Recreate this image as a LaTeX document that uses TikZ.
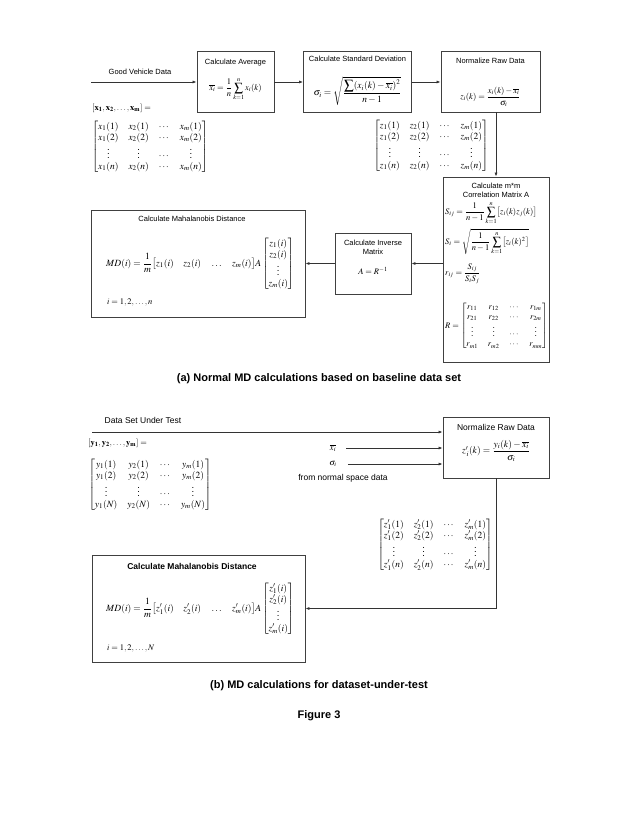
\documentclass[tikz,border=0pt]{standalone}
\usepackage{amsmath}
\usepackage{mathptmx}
\usepackage[no-math]{fontspec}
\setmainfont{Liberation Sans}
\usepackage{tikz}
\usetikzlibrary{arrows.meta,positioning,calc}
\newcommand{\xb}{\overline{x_i}}

\begin{document}
\begin{tikzpicture}[
  x=1pt, y=-1pt,
  font=\fontsize{7.5}{9}\selectfont,
  box/.style={draw=black!75, line width=0.8pt, minimum width=#1, inner sep=0pt},
  ttl/.style={font=\fontsize{7.5}{9}\selectfont, align=center},
  eq/.style={font=\fontsize{8.5}{10}\selectfont, inner sep=0pt},
  bigeq/.style={font=\fontsize{9.5}{11}\selectfont, inner sep=0pt},
  lab/.style={font=\fontsize{8.5}{10}\selectfont},
  captxt/.style={font=\fontsize{11}{13}\selectfont\bfseries},
  arr/.style={-{Latex[length=4pt,width=3pt]}, line width=0.7pt, black!80},
]
\useasboundingbox (0,0) rectangle (638,826);
% ---- (a) baseline
% boxes
\node[box=77, minimum height=61]  (avg)  at (235.5,81.5) {};
\node[box=108, minimum height=61] (std)  at (357.5,81.5) {};
\node[box=99, minimum height=61]  (norm) at (490.5,81.5) {};
\node[box=106, minimum height=185] (corr) at (496,269.5) {};
\node[box=76, minimum height=61]  (inv)  at (373,263.5) {};
\node[box=214, minimum height=107] (mda) at (198,263.5) {};
% titles and formulas
\node[ttl] (avgt) at (235.5,63) {Calculate Average};
\node[eq]  (avgf) at (235.5,89) {$\displaystyle\xb=\frac{1}{n}\sum_{k=1}^{n}x_i(k)$};
\node[ttl] (stdt) at (357.5,59) {Calculate Standard Deviation};
\node[bigeq] (stdf) at (357.5,91) {$\sigma_i=\sqrt{\dfrac{\displaystyle\sum(x_i(k)-\xb)^2}{n-1}}$};
\node[ttl] (normt) at (490.5,61) {Normalize Raw Data};
\node[eq]  (normf) at (490.5,97) {$z_i(k)=\dfrac{x_i(k)-\xb}{\sigma_i}$};
\node[ttl] (corrt) at (496,190) {Calculate m*m\\Correlation Matrix A};
\node[eq, anchor=west] (sij) at (445,213) {$\displaystyle S_{ij}=\frac{1}{n-1}\sum_{k=1}^{n}\bigl[z_i(k)z_j(k)\bigr]$};
\node[eq, anchor=west] (si) at (445,242) {$\displaystyle S_i=\sqrt{\frac{1}{n-1}\sum_{k=1}^{n}\bigl[z_i(k)^2\bigr]}$};
\node[eq, anchor=west] (rij) at (445,274) {$r_{ij}=\dfrac{S_{ij}}{S_iS_j}$};
\node[eq, anchor=west] (rmat) at (445,326) {$R=\begin{bmatrix}r_{11}&r_{12}&\cdots&r_{1m}\\ r_{21}&r_{22}&\cdots&r_{2m}\\ \vdots&\vdots&\cdots&\vdots\\ r_{m1}&r_{m2}&\cdots&r_{mm}\end{bmatrix}$};
\node[ttl] (invt) at (373,247) {Calculate Inverse\\Matrix};
\node[eq]  (invf) at (373,271) {$A=R^{-1}$};
\node[ttl] (mdat) at (192,219) {Calculate Mahalanobis Distance};
\node[bigeq, anchor=west] (mdaf) at (106,264) {$MD(i)=\dfrac{1}{m}\bigl[z_1(i)\quad z_2(i)\quad\ldots\quad z_m(i)\bigr]A\begin{bmatrix}z_1(i)\\ z_2(i)\\ \vdots\\ z_m(i)\end{bmatrix}$};
\node[eq, anchor=west] (mdai) at (107,302) {$i=1,2,\ldots,n$};
% data matrices
\node[eq, anchor=west] (xlab) at (92,108) {$[\mathbf{x_1},\mathbf{x_2},\ldots,\mathbf{x_m}]=$};
\node[bigeq] (xmat) at (150,147) {$\begin{bmatrix}x_1(1)&x_2(1)&\cdots&x_m(1)\\ x_1(2)&x_2(2)&\cdots&x_m(2)\\ \vdots&\vdots&\cdots&\vdots\\ x_1(n)&x_2(n)&\cdots&x_m(n)\end{bmatrix}$};
\node[bigeq] (zmat) at (431,146) {$\begin{bmatrix}z_1(1)&z_2(1)&\cdots&z_m(1)\\ z_1(2)&z_2(2)&\cdots&z_m(2)\\ \vdots&\vdots&\cdots&\vdots\\ z_1(n)&z_2(n)&\cdots&z_m(n)\end{bmatrix}$};
% connectors
\coordinate (gvd) at (91,82);
\node[ttl] (gvdt) at (140,72) {Good Vehicle Data};
\draw[arr] (gvd) -- (gvd -| avg.west);
\draw[arr] (avg.east |- gvd) -- (std.west |- gvd);
\draw[arr] (std.east |- gvd) -- (norm.west |- gvd);
\draw[arr] (corr.north |- norm.south) -- (corr.north);
\draw[arr] (inv.east -| corr.west) -- (inv.east);
\draw[arr] (inv.west) -- (mda.east);
\node[captxt] (capa) at (319,379) {(a) Normal MD calculations based on baseline data set};
% ---- (b) dataset under test
\node[box=106, minimum height=61]  (normb) at (496,447.5) {};
\node[box=213, minimum height=107] (mdb)   at (198.5,608.5) {};
\node[lab] (normbt) at (496,427) {Normalize Raw Data};
\node[bigeq] (normbf) at (496,451) {$z'_{\,i}(k)=\dfrac{y_i(k)-\xb}{\sigma_i}$};
\node[lab, font=\fontsize{8.5}{10}\selectfont\bfseries] (mdbt) at (192,566) {Calculate Mahalanobis Distance};
\node[bigeq, anchor=west] (mdbf) at (106,609) {$MD(i)=\dfrac{1}{m}\bigl[z'_1(i)\quad z'_2(i)\quad\ldots\quad z'_m(i)\bigr]A\begin{bmatrix}z'_1(i)\\ z'_2(i)\\ \vdots\\ z'_m(i)\end{bmatrix}$};
\node[eq, anchor=west] (mdbi) at (107,648) {$i=1,2,\ldots,N$};
\node[eq, anchor=west] (ylab) at (88,443) {$[\mathbf{y_1},\mathbf{y_2},\ldots,\mathbf{y_m}]=$};
\node[bigeq] (ymat) at (150,485) {$\begin{bmatrix}y_1(1)&y_2(1)&\cdots&y_m(1)\\ y_1(2)&y_2(2)&\cdots&y_m(2)\\ \vdots&\vdots&\cdots&\vdots\\ y_1(N)&y_2(N)&\cdots&y_m(N)\end{bmatrix}$};
\node[bigeq] (zpmat) at (435,545) {$\begin{bmatrix}z'_1(1)&z'_2(1)&\cdots&z'_m(1)\\ z'_1(2)&z'_2(2)&\cdots&z'_m(2)\\ \vdots&\vdots&\cdots&\vdots\\ z'_1(n)&z'_2(n)&\cdots&z'_m(n)\end{bmatrix}$};
\node[eq] (xbar) at (333,448) {$\xb$};
\node[eq] (sig)  at (333,464) {$\sigma_i$};
\node[lab] (fnsd) at (343,478) {from normal space data};
% connectors
\coordinate (dsut) at (92,432);
\node[lab] (dsutt) at (143,420) {Data Set Under Test};
\draw[arr] (dsut) -- (dsut -| normb.west);
\draw[arr] ($(xbar.east)+(10,0)$) -- (xbar.east -| normb.west);
\draw[arr] ($(sig.east)+(11,0)$) -- (sig.east -| normb.west);
\draw[arr] (normb.south) |- (mdb.east);
\node[captxt] (capb) at (319,686) {(b) MD calculations for dataset-under-test};
\node[captxt] (fig) at (319,716) {Figure 3};
\end{tikzpicture}
\end{document}
